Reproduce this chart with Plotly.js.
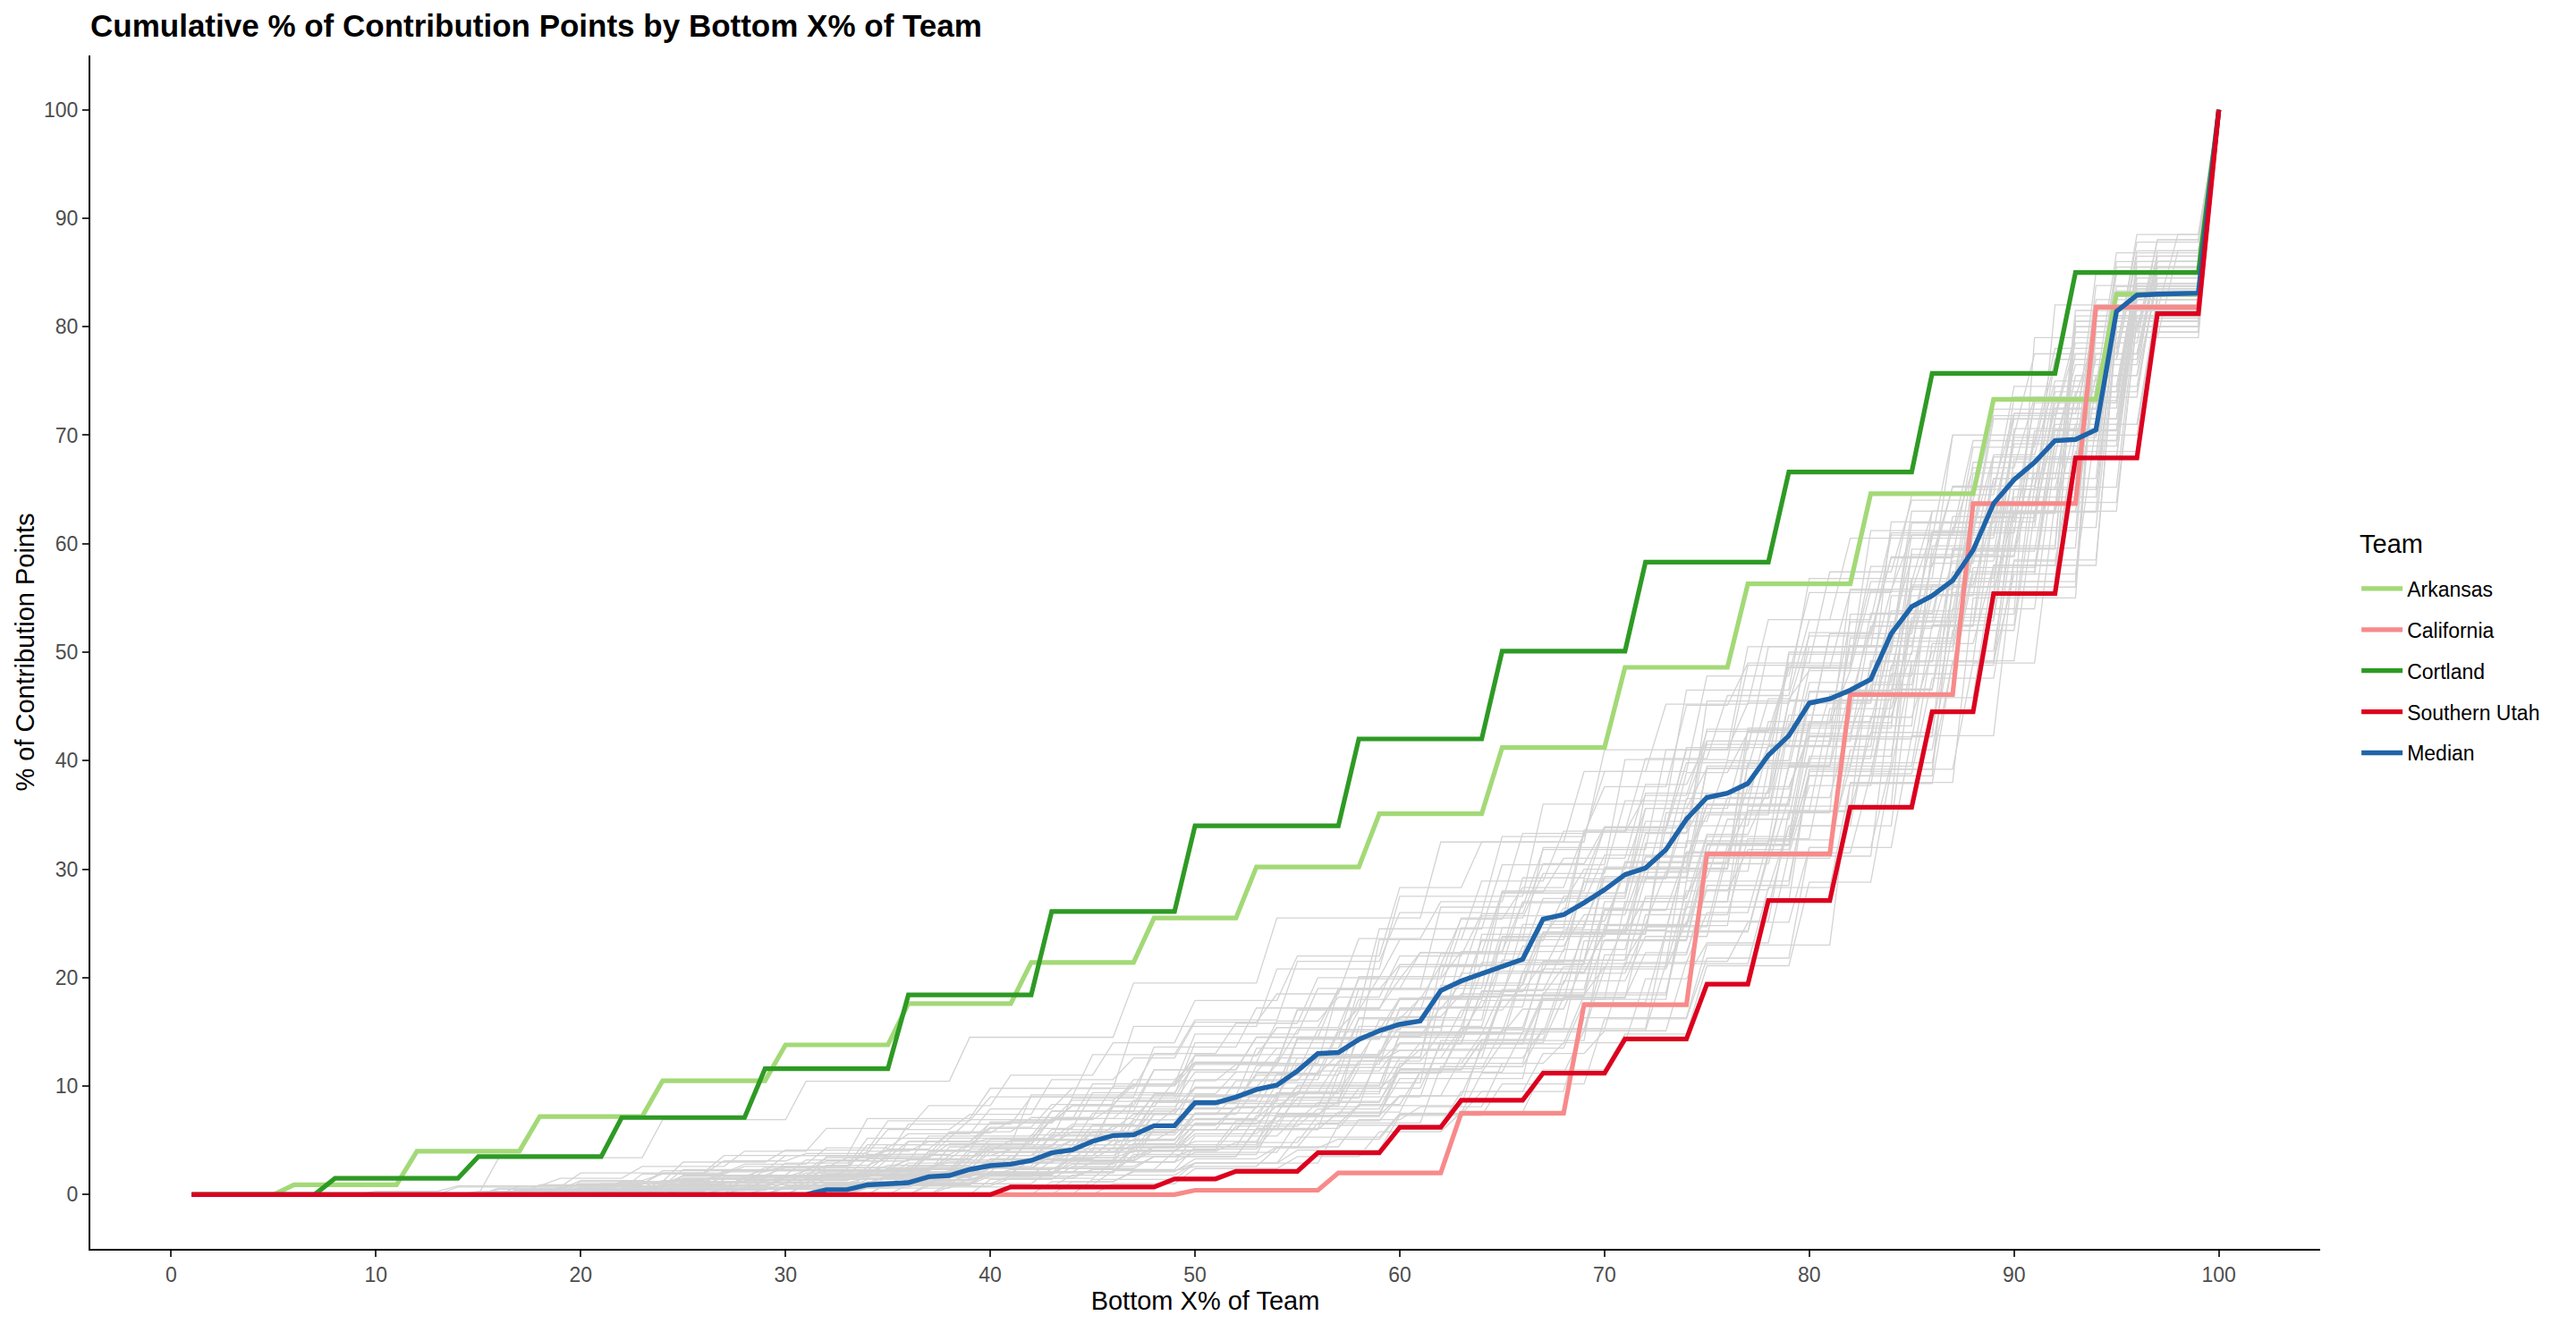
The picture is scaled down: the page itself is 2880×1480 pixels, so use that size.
<!DOCTYPE html>
<html>
<head>
<meta charset="utf-8">
<script src="https://cdn.plot.ly/plotly-3.0.1.min.js"></script>
<style>html,body{margin:0;padding:0;background:#fff;}#chart{width:2880px;height:1480px;}</style>
</head>
<body>
<div id="chart"></div>
<script>
// ---------- Data ----------
const titleText = "Cumulative % of Contribution Points by Bottom X% of Team";
const xTitle = "Bottom X% of Team";
const yTitle = "% of Contribution Points";
const legendTitle = "Team";
const xTicks = [0, 10, 20, 30, 40, 50, 60, 70, 80, 90, 100];
const yTicks = [0, 10, 20, 30, 40, 50, 60, 70, 80, 90, 100];

// Highlighted teams: x where each step is reached, and cumulative % reached there
const arkansasX = [6, 12, 18, 24, 30, 36, 42, 48, 53, 59, 65, 71, 77, 83, 89, 95, 100];
const arkansasY = [0.9, 4.0, 7.2, 10.5, 13.8, 17.6, 21.4, 25.5, 30.2, 35.1, 41.2, 48.6, 56.3, 64.6, 73.3, 83.0, 100];
const californiaX = [50, 57, 63, 69, 75, 82, 88, 94, 100];
const californiaY = [0.4, 2.0, 7.5, 17.5, 31.4, 46.1, 63.7, 81.8, 100];
const cortlandX = [8, 15, 22, 29, 36, 43, 50, 58, 65, 72, 79, 86, 93, 100];
const cortlandY = [1.5, 3.5, 7.1, 11.6, 18.4, 26.1, 34.0, 42.0, 50.1, 58.3, 66.6, 75.7, 85.0, 100];
const southernUtahX = [41, 49, 52, 56, 60, 63, 67, 71, 75, 78, 82, 86, 89, 93, 97, 100];
const southernUtahY = [0.7, 1.45, 2.15, 3.85, 6.2, 8.7, 11.2, 14.35, 19.4, 27.1, 35.7, 44.5, 55.4, 67.9, 81.2, 100];

// Median at every x = 1..100
const medianY = [
  0, 0, 0, 0, 0, 0, 0, 0, 0, 0,
  0, 0, 0, 0, 0, 0, 0, 0, 0, 0,
  0, 0, 0, 0, 0, 0, 0, 0, 0, 0,
  0, 0.45, 0.45, 0.9, 1.0, 1.1, 1.65, 1.76, 2.32, 2.67,
  2.8, 3.15, 3.85, 4.12, 4.92, 5.44, 5.51, 6.35, 6.35, 8.46,
  8.46, 8.99, 9.68, 10.1, 11.4, 13.0, 13.1, 14.3, 15.1, 15.7,
  16.0, 18.8, 19.7, 20.4, 21.1, 21.7, 25.4, 25.8, 26.9, 28.1,
  29.5, 30.1, 31.8, 34.6, 36.6, 37.0, 37.9, 40.5, 42.3, 45.3,
  45.7, 46.5, 47.5, 51.7, 54.2, 55.2, 56.6, 59.4, 63.7, 65.9,
  67.5, 69.5, 69.6, 70.5, 81.4, 82.9, 83.0, 83.0, 83.1, 100
];

// Other teams (grey): step x positions and cumulative %
const greyStepX = [
  [16,24,31,39,47,54,62,70,77,85,93,100],
  [20,25,30,35,40,45,50,55,60,65,70,75,80,85,90,95,100],
  [14,20,27,34,40,47,54,60,67,74,80,87,94,100],
  [10,14,19,23,28,32,37,41,46,50,55,60,64,69,73,78,82,87,91,96,100],
  [17,25,34,42,50,59,67,75,84,92,100],
  [17,23,28,34,39,45,50,56,62,67,73,78,84,89,95,100],
  [16,20,24,28,32,36,40,44,48,52,56,60,64,68,72,76,80,84,88,92,96,100],
  [15,22,29,36,43,50,58,65,72,79,86,93,100],
  [19,25,32,38,44,50,57,63,69,75,82,88,94,100],
  [20,25,30,35,40,45,50,55,60,65,70,75,80,85,90,95,100],
  [17,21,25,30,34,38,42,46,50,55,59,63,67,71,75,80,84,88,92,96,100],
  [18,22,25,29,33,36,40,43,47,50,54,58,61,65,68,72,75,79,83,86,90,93,97,100],
  [20,24,27,30,34,37,40,44,47,50,54,57,60,64,67,70,74,77,80,84,87,90,94,97,100],
  [16,24,31,39,47,54,62,70,77,85,93,100],
  [19,25,32,38,44,50,57,63,69,75,82,88,94,100],
  [20,25,30,35,40,45,50,55,60,65,70,75,80,85,90,95,100],
  [19,23,28,32,37,41,46,50,55,60,64,69,73,78,82,87,91,96,100],
  [20,24,28,32,36,40,44,48,52,56,60,64,68,72,76,80,84,88,92,96,100],
  [22,29,36,43,50,58,65,72,79,86,93,100],
  [23,28,34,39,45,50,56,62,67,73,78,84,89,95,100],
  [25,30,35,40,45,50,55,60,65,70,75,80,85,90,95,100],
  [21,25,30,34,38,42,46,50,55,59,63,67,71,75,80,84,88,92,96,100],
  [23,26,30,34,38,41,45,49,52,56,60,63,67,71,75,78,82,86,89,93,97,100],
  [27,34,40,47,54,60,67,74,80,87,94,100],
  [25,30,35,40,45,50,55,60,65,70,75,80,85,90,95,100],
  [28,32,37,41,46,50,55,60,64,69,73,78,82,87,91,96,100],
  [28,32,36,40,44,48,52,56,60,64,68,72,76,80,84,88,92,96,100],
  [27,30,34,37,40,44,47,50,54,57,60,64,67,70,74,77,80,84,87,90,94,97,100],
  [31,39,47,54,62,70,77,85,93,100],
  [32,38,44,50,57,63,69,75,82,88,94,100],
  [30,35,40,45,50,55,60,65,70,75,80,85,90,95,100],
  [30,34,38,42,46,50,55,59,63,67,71,75,80,84,88,92,96,100],
  [33,36,40,43,47,50,54,58,61,65,68,72,75,79,83,86,90,93,97,100],
  [34,40,47,54,60,67,74,80,87,94,100],
  [35,40,45,50,55,60,65,70,75,80,85,90,95,100],
  [32,36,40,44,48,52,56,60,64,68,72,76,80,84,88,92,96,100],
  [34,37,40,44,47,50,54,57,60,64,67,70,74,77,80,84,87,90,94,97,100],
  [34,39,45,50,56,62,67,73,78,84,89,95,100],
  [37,41,46,50,55,60,64,69,73,78,82,87,91,96,100],
  [38,41,45,49,52,56,60,63,67,71,75,78,82,86,89,93,97,100],
  [38,44,50,57,63,69,75,82,88,94,100],
  [41,46,50,55,60,64,69,73,78,82,87,91,96,100],
  [43,47,50,54,58,61,65,68,72,75,79,83,86,90,93,97,100],
  [46,50,55,59,63,67,71,75,80,84,88,92,96,100],
  [18,24,30,36,42,48,53,59,65,71,77,83,89,95,100],
  [16,20,24,27,31,35,39,43,47,50,54,58,62,66,70,74,77,81,85,89,93,97,100],
  [22,27,32,37,43,48,53,58,64,69,74,79,85,90,95,100],
  [18,22,27,31,35,40,44,48,53,57,61,66,70,74,79,83,87,92,96,100],
  [19,22,25,29,32,35,38,41,44,47,50,54,57,60,63,66,69,72,75,79,82,85,88,91,94,97,100],
  [28,37,46,55,64,73,82,91,100],
  [20,24,29,34,39,43,48,53,58,62,67,72,77,81,86,91,96,100],
  [24,27,31,35,39,43,47,50,54,58,62,66,70,74,77,81,85,89,93,97,100],
  [20,23,26,29,32,35,38,40,43,46,49,52,55,58,60,63,66,69,72,75,78,80,83,86,89,92,95,98,100],
  [24,30,36,42,48,53,59,65,71,77,83,89,95,100],
  [22,27,31,35,40,44,48,53,57,61,66,70,74,79,83,87,92,96,100],
  [25,29,33,36,40,43,47,50,54,58,61,65,68,72,75,79,83,86,90,93,97,100],
  [22,27,32,37,43,48,53,58,64,69,74,79,85,90,95,100],
  [24,31,39,47,54,62,70,77,85,93,100],
  [24,29,34,39,43,48,53,58,62,67,72,77,81,86,91,96,100],
  [24,28,32,36,40,44,48,52,56,60,64,68,72,76,80,84,88,92,96,100],
  [25,29,32,35,38,41,44,47,50,54,57,60,63,66,69,72,75,79,82,85,88,91,94,97,100],
  [30,36,42,48,53,59,65,71,77,83,89,95,100],
  [27,31,35,40,44,48,53,57,61,66,70,74,79,83,87,92,96,100],
  [31,35,39,43,47,50,54,58,62,66,70,74,77,81,85,89,93,97,100],
  [32,35,38,40,43,46,49,52,55,58,60,63,66,69,72,75,78,80,83,86,89,92,95,98,100],
  [34,40,47,54,60,67,74,80,87,94,100],
  [29,34,39,43,48,53,58,62,67,72,77,81,86,91,96,100],
  [32,36,40,44,48,52,56,60,64,68,72,76,80,84,88,92,96,100],
  [35,38,41,44,47,50,54,57,60,63,66,69,72,75,79,82,85,88,91,94,97,100],
  [37,43,48,53,58,64,69,74,79,85,90,95,100],
  [36,40,43,47,50,54,58,61,65,68,72,75,79,83,86,90,93,97,100],
  [40,44,48,53,57,61,66,70,74,79,83,87,92,96,100],
  [45,50,55,60,65,70,75,80,85,90,95,100],
  [44,47,50,54,57,60,64,67,70,74,77,80,84,87,90,94,97,100]
];
const greyStepY = [
  [3.4,6.9,10.45,14.5,19.5,25.5,32.5,41.0,50.5,63.0,80.5,100],
  [1.2,3.0,4.1,6.8,9.0,12.9,16.1,21.5,26.0,33.0,39.0,47.8,55.5,64.5,74.5,86.8,100],
  [0.7,2.0,3.6,7.0,9.8,15.5,20.8,27.5,36.0,46.5,56.8,70.0,85.0,100],
  [0.3,0.8,1.5,2.6,4.0,6.1,8.2,11.0,14.0,17.9,22.0,28.3,32.5,39.0,45.2,53.0,60.5,70.0,77.5,88.5,100],
  [0.8,2.3,4.6,9.2,14.0,23.5,32.0,45.5,62.0,82.0,100],
  [0.5,1.9,2.6,5.2,6.9,10.2,14.8,19.0,26.5,31.8,41.0,50.5,60.8,71.5,85.5,100],
  [0.6,1.0,2.0,2.8,4.3,5.6,7.9,9.8,13.0,15.8,20.0,23.5,28.9,33.5,40.2,46.0,53.0,61.0,69.5,78.0,87.8,100],
  [0.3,1.2,2.2,4.9,7.7,12.9,19.0,27.8,37.0,49.8,63.0,81.5,100],
  [0.7,1.4,3.5,5.2,8.9,12.1,18.9,24.6,33.4,41.8,55.8,67.5,83.8,100],
  [0.6,1.8,2.5,4.6,6.1,9.4,12.0,17.1,21.0,28.0,33.8,42.9,50.5,61.9,72.0,84.9,100],
  [0.4,1.0,1.5,2.9,3.7,5.8,7.1,10.0,12.2,17.0,20.1,25.5,29.6,36.3,41.5,51.8,58.7,68.9,77.0,87.0,100],
  [0.5,1.2,1.5,2.5,3.4,4.9,6.2,8.3,10.1,12.8,15.4,19.9,22.3,27.9,31.0,37.8,41.8,49.0,56.5,63.0,71.5,78.5,88.0,100],
  [0.7,1.3,2.1,2.6,4.0,4.9,6.6,8.2,10.6,12.2,16.0,18.2,22.0,25.9,30.5,33.9,41.0,45.3,51.5,58.8,65.2,72.0,80.0,86.5,100],
  [0.3,0.9,2.3,4.2,8.7,12.6,21.2,30.1,43.0,59.5,81.0,100],
  [0.4,1.1,2.1,4.4,6.3,10.6,15.0,22.4,28.8,39.5,51.3,66.5,82.5,100],
  [0.3,1.2,1.7,3.3,4.6,7.5,9.8,14.4,18.0,24.6,30.2,39.3,47.2,59.0,70.0,83.7,100],
  [0.4,0.7,1.6,2.2,4.0,5.0,8.1,9.9,14.3,18.1,23.5,28.9,36.0,43.6,52.8,62.5,73.0,86.0,100],
  [0.4,1.0,1.4,2.5,3.2,5.1,6.5,9.3,11.3,15.2,18.1,23.4,27.5,34.4,40.0,48.5,55.8,65.0,74.5,85.0,100],
  [0.4,1.4,2.6,5.7,8.4,15.5,21.6,32.4,43.2,59.8,80.5,100],
  [0.5,1.3,2.1,3.9,5.8,9.2,12.7,19.3,24.1,34.0,41.3,55.2,66.0,83.0,100],
  [0.6,1.6,2.3,4.3,5.8,9.1,12.0,17.2,21.6,29.3,36.0,46.4,56.0,69.8,82.8,100],
  [0.3,0.9,1.4,2.5,3.2,5.1,6.3,9.0,12.6,15.4,20.4,24.2,30.7,35.9,46.3,53.8,63.5,73.0,84.5,100],
  [0.5,0.8,1.6,2.2,3.6,4.2,6.4,7.9,10.5,12.9,17.1,19.5,25.2,29.7,37.0,41.4,50.6,58.2,66.0,75.5,87.0,100],
  [0.6,1.8,2.9,6.0,9.3,14.9,21.3,32.6,42.2,59.6,82.0,100],
  [0.4,1.1,1.7,3.3,4.6,7.5,10.0,14.8,18.9,26.3,33.0,43.5,53.2,67.8,81.8,100],
  [0.7,1.4,2.1,3.6,5.0,7.5,10.1,14.7,17.9,24.9,29.8,39.5,46.5,59.4,69.5,84.0,100],
  [0.6,1.4,1.9,3.3,4.2,6.4,8.1,11.4,13.9,18.8,22.6,29.2,34.6,43.6,51.0,62.4,71.5,83.5,100],
  [0.5,1.1,1.5,2.5,2.9,4.6,5.5,7.5,9.4,12.3,14.0,18.7,21.5,26.2,31.5,37.6,42.3,52.2,58.4,66.5,77.5,86.0,100],
  [0.8,2.5,4.6,9.0,14.2,24.8,35.8,56.0,80.0,100],
  [1.1,1.9,4.0,6.0,11.2,15.3,23.4,31.0,46.0,61.2,81.0,100],
  [0.7,1.6,2.4,4.3,6.0,9.5,12.6,18.4,23.5,32.2,40.4,52.9,65.0,81.0,100],
  [0.6,1.4,1.9,3.3,4.3,6.6,8.9,12.6,15.4,20.8,24.9,32.3,40.2,50.5,59.3,70.5,83.0,100],
  [1.0,1.8,2.4,3.6,4.7,6.5,8.2,11.7,13.4,18.4,21.0,27.5,31.1,39.6,47.0,55.3,65.0,73.5,85.5,100],
  [0.9,2.1,3.7,7.5,10.7,18.6,27.0,39.2,56.0,80.5,100],
  [1.0,2.1,3.0,5.4,7.3,11.6,15.2,22.1,28.5,39.0,49.2,64.3,80.8,100],
  [0.6,1.3,1.8,3.1,4.1,6.3,7.9,11.5,14.3,19.7,23.8,31.4,37.7,48.0,57.2,69.0,82.5,100],
  [0.7,1.3,2.0,2.8,4.1,4.9,7.4,8.6,11.5,14.2,18.4,21.0,28.0,31.8,39.0,46.6,55.5,63.0,74.5,84.5,100],
  [0.6,1.5,2.3,4.4,6.6,11.8,15.3,24.2,31.2,45.8,58.0,80.0,100],
  [0.8,1.5,3.0,3.9,6.8,9.1,13.5,17.7,24.3,31.6,41.0,52.0,65.2,82.0,100],
  [1.0,1.7,2.3,4.0,4.8,7.3,9.1,12.6,15.3,21.4,26.0,32.7,39.5,50.8,58.0,70.0,83.0,100],
  [0.7,1.8,2.9,6.4,9.5,16.3,23.0,38.0,55.0,79.5,100],
  [0.9,2.2,2.9,5.3,7.5,11.2,15.1,21.3,28.3,37.9,49.2,63.0,81.0,100],
  [1.2,2.1,3.3,4.4,6.9,8.1,12.1,14.0,19.9,23.2,31.5,38.8,47.6,58.4,68.5,82.5,100],
  [1.0,2.4,3.5,5.8,7.6,11.5,14.8,21.1,28.8,39.2,49.0,63.8,80.5,100],
  [0.9,2.2,3.6,6.5,9.0,13.6,17.2,24.5,30.4,40.1,48.8,61.2,72.4,86.0,100],
  [0.5,1.3,1.9,3.1,3.8,6.0,7.4,10.6,12.6,15.9,18.5,23.6,27.0,33.3,37.6,45.1,49.0,57.4,64.0,71.8,79.5,88.0,100],
  [1.0,2.2,3.1,5.4,7.7,11.5,14.5,20.1,25.7,33.6,39.8,50.0,60.8,73.5,85.0,100],
  [0.5,1.2,1.8,3.2,4.1,6.7,8.2,11.5,14.5,19.0,22.3,29.2,33.8,41.2,48.6,57.9,65.3,77.0,86.5,100],
  [0.6,1.0,1.7,2.3,3.4,4.2,5.7,6.8,8.7,10.2,12.8,15.4,18.9,21.2,25.4,28.3,33.4,36.8,42.7,48.6,55.7,60.8,67.0,73.5,79.5,86.0,100],
  [1.7,4.0,8.6,14.5,24.0,35.2,53.5,79.0,100],
  [0.5,1.2,1.8,3.3,4.6,7.0,9.1,13.5,17.0,22.2,27.3,35.6,42.8,51.7,61.0,73.2,85.5,100],
  [0.9,1.6,2.2,3.7,4.7,7.0,8.6,11.3,13.5,18.0,21.1,27.0,31.3,38.9,42.6,51.7,58.8,68.0,77.5,86.5,100],
  [0.5,0.8,1.4,1.8,2.7,3.4,4.7,5.2,6.9,8.1,10.5,12.0,15.2,17.2,19.9,22.4,26.9,30.0,35.6,39.3,45.7,48.3,55.6,61.1,68.2,75.0,81.5,88.5,100],
  [0.7,1.8,2.9,5.5,7.9,11.9,16.1,23.8,30.6,41.8,52.4,68.0,83.3,100],
  [0.5,1.1,2.0,2.7,4.6,5.8,8.5,11.2,15.2,18.2,24.9,29.3,36.5,44.2,53.6,61.5,74.0,84.5,100],
  [0.8,1.6,2.2,3.3,4.2,6.0,7.4,9.9,12.0,16.2,18.1,23.7,26.4,33.3,37.0,45.5,52.4,60.5,69.2,76.5,86.0,100],
  [0.3,1.4,1.9,3.6,5.4,8.6,11.0,16.3,21.4,29.1,35.2,45.6,56.8,70.6,83.2,100],
  [0.5,1.5,3.2,6.9,10.3,18.3,27.0,39.8,56.5,80.0,100],
  [0.4,1.3,2.0,3.6,4.6,7.4,9.8,14.6,17.3,24.2,30.0,39.7,46.1,58.8,70.4,84.0,100],
  [0.6,0.9,1.8,2.4,3.9,5.0,7.4,9.2,12.8,15.5,20.6,24.4,31.2,36.6,45.3,52.8,63.6,72.5,84.0,100],
  [0.5,1.3,1.6,2.4,3.0,4.2,5.0,6.9,8.0,11.1,12.9,16.4,18.5,22.9,25.8,31.1,35.0,43.4,48.3,56.2,62.0,69.5,77.0,85.5,100],
  [0.8,2.0,3.2,6.0,8.1,13.3,18.0,27.0,35.4,49.2,62.9,82.0,100],
  [0.5,1.1,1.6,3.0,3.9,6.0,8.1,11.7,14.0,20.4,24.3,31.6,39.4,49.1,57.4,71.5,83.5,100],
  [0.9,1.8,2.4,3.9,5.1,7.0,8.7,12.3,15.0,20.5,24.4,31.5,35.4,44.8,52.4,63.0,74.0,85.0,100],
  [1.0,1.8,2.2,3.0,3.6,5.0,6.0,8.1,9.4,12.3,13.3,17.0,19.4,24.1,27.3,33.2,37.4,42.5,47.8,56.2,62.8,71.0,79.0,87.0,100],
  [1.1,2.0,4.4,7.2,12.1,18.0,28.9,38.6,56.5,80.5,100],
  [0.5,1.2,1.8,3.1,4.4,7.3,9.8,13.9,18.1,25.8,32.8,42.0,52.5,67.8,83.0,100],
  [0.7,1.4,2.0,3.4,4.4,6.8,8.5,12.1,14.8,20.4,24.7,32.2,38.6,48.8,57.8,69.5,82.5,100],
  [1.0,1.8,2.3,3.4,4.0,5.6,7.2,9.8,11.3,14.8,17.1,21.6,24.7,30.5,36.6,44.1,50.1,58.9,66.5,75.5,84.0,100],
  [1.0,2.4,3.5,6.1,8.2,13.9,18.4,26.5,34.0,48.8,61.5,80.0,100],
  [0.9,1.7,2.1,3.5,4.2,6.5,8.3,11.3,14.0,18.2,22.3,28.1,34.0,44.0,50.1,62.8,71.0,82.5,100],
  [1.4,2.6,3.5,6.0,7.6,11.3,15.0,20.8,25.2,35.3,42.6,54.0,68.0,82.0,100],
  [1.4,2.9,4.1,7.3,10.2,16.2,21.8,32.0,42.3,58.5,79.5,100],
  [1.2,2.2,2.6,4.3,5.1,7.4,9.5,13.0,15.1,21.5,25.1,32.0,39.8,49.1,57.2,71.0,81.5,100]
];

// ---------- Build step polylines (flat until x-1, rising to the new level at x) ----------
function stepLine(xs, ys) {
  const px = [1], py = [0];
  let prev = 0;
  for (let i = 0; i < xs.length; i++) {
    if (xs[i] - 1 > px[px.length - 1]) { px.push(xs[i] - 1); py.push(prev); }
    px.push(xs[i]); py.push(ys[i]);
    prev = ys[i];
  }
  return { x: px, y: py };
}

const traces = [];
for (let g = 0; g < greyStepX.length; g++) {
  const s = stepLine(greyStepX[g], greyStepY[g]);
  traces.push({ type: 'scatter', mode: 'lines', x: s.x, y: s.y, showlegend: false,
    hoverinfo: 'skip', line: { color: '#D3D3D3', width: 1.3 } });
}

const fontFam = 'Liberation Sans, Arial, Helvetica, sans-serif';
function teamTrace(name, xs, ys, color, rank) {
  const s = stepLine(xs, ys);
  return { type: 'scatter', mode: 'lines', name: name, x: s.x, y: s.y,
    legendgroup: name, legendrank: rank, line: { color: color, width: 5.2 } };
}
const medianX = medianY.map((v, i) => i + 1);
traces.push(teamTrace('Arkansas', arkansasX, arkansasY, '#A3D977', 1));
traces.push(teamTrace('California', californiaX, californiaY, '#F88A8A', 2));
traces.push(teamTrace('Cortland', cortlandX, cortlandY, '#2E9A24', 3));
traces.push({ type: 'scatter', mode: 'lines', name: 'Median', x: medianX, y: medianY,
  legendgroup: 'Median', legendrank: 5, line: { color: '#1F64A9', width: 5.4 } });
traces.push(teamTrace('Southern Utah', southernUtahX, southernUtahY, '#DC001E', 4));

const axisCommon = {
  showgrid: false, zeroline: false, showline: true, linecolor: '#000', linewidth: 2,
  ticks: 'outside', ticklen: 7, tickwidth: 2, tickcolor: '#333',
  tickfont: { family: fontFam, size: 23, color: '#4D4D4D' }, automargin: false
};

const layout = {
  width: 2880, height: 1480,
  margin: { l: 101, r: 286, t: 62, b: 84 },
  paper_bgcolor: '#fff', plot_bgcolor: '#fff',
  font: { family: fontFam, color: '#000' },
  title: { text: '<b>' + titleText + '</b>', font: { family: fontFam, size: 35, color: '#000' },
    x: 0, xref: 'paper', xanchor: 'left', y: 1 - 29 / 1480, yref: 'container', yanchor: 'middle' },
  xaxis: Object.assign({}, axisCommon, { range: [-3.95, 104.95], tickvals: xTicks,
    title: { text: xTitle, font: { family: fontFam, size: 29, color: '#000' }, standoff: 0 } }),
  yaxis: Object.assign({}, axisCommon, { range: [-5, 105], tickvals: yTicks,
    title: { text: yTitle, font: { family: fontFam, size: 29, color: '#000' }, standoff: 2 } }),
  legend: { x: 1.0165, xanchor: 'left', y: 0.4843, yanchor: 'middle', traceorder: 'grouped',
    tracegroupgap: 13, itemwidth: 46, bgcolor: 'rgba(0,0,0,0)',
    font: { family: fontFam, size: 23, color: '#000' } },
  annotations: [{ text: legendTitle, xref: 'paper', yref: 'paper', x: 1.0168, y: 0.5907,
    xanchor: 'left', yanchor: 'middle', showarrow: false,
    font: { family: fontFam, size: 29, color: '#000' } }],
  showlegend: true
};

Plotly.newPlot('chart', traces, layout, { displayModeBar: false, staticPlot: true });
</script>
</body>
</html>
